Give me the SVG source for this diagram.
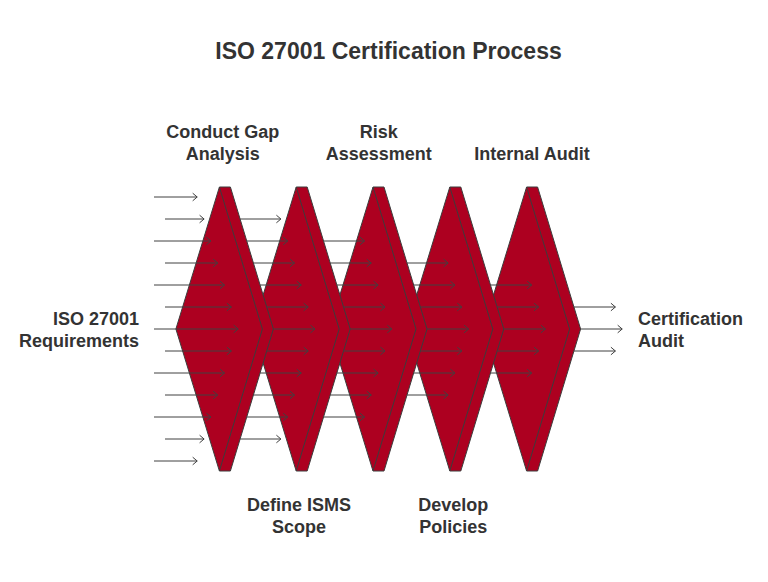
<svg xmlns="http://www.w3.org/2000/svg" width="768" height="582" viewBox="0 0 768 582">
<defs>
<marker id="ah" markerUnits="userSpaceOnUse" markerWidth="8" markerHeight="10" refX="6" refY="5" orient="auto">
<path d="M1.5,1.2 L6,5 L1.5,8.8" fill="none" stroke="#404040" stroke-width="1"/>
</marker>
<style>
.stage{fill:#AD0020;stroke:#3c3c3c;stroke-width:1;stroke-linejoin:miter}
.edge{fill:none;stroke:#3c3c3c;stroke-width:1}
.lbl{font-family:"Liberation Sans",Arial,sans-serif;font-weight:bold;font-size:18px;fill:#333333}
.title{font-family:"Liberation Sans",Arial,sans-serif;font-weight:bold;font-size:23px;fill:#333333}
.arr{fill:none;stroke:#404040;stroke-width:1;marker-end:url(#ah)}
</style>
</defs>
<rect width="768" height="582" fill="#ffffff"/>
<text class="title" x="388.5" y="59" text-anchor="middle">ISO 27001 Certification Process</text>

<g id="stage5">
<polygon class="stage" points="483.1,329 526.6,187 537.6,187 580.6,329 537.6,471 526.6,471"/>
<polyline class="edge" points="526.6,187 569.6,329 526.6,471"/>
</g>
<g id="stage4">
<polygon class="stage" points="406.3,329 449.8,187 460.8,187 503.8,329 460.8,471 449.8,471"/>
<polyline class="edge" points="449.8,187 492.8,329 449.8,471"/>
</g>
<g id="stage3">
<polygon class="stage" points="329.5,329 373,187 384,187 427,329 384,471 373,471"/>
<polyline class="edge" points="373,187 416,329 373,471"/>
</g>
<g id="stage2">
<polygon class="stage" points="252.7,329 296.2,187 307.2,187 350.2,329 307.2,471 296.2,471"/>
<polyline class="edge" points="296.2,187 339.2,329 296.2,471"/>
</g>
<g id="stage1">
<polygon class="stage" points="175.9,329 219.4,187 230.4,187 273.4,329 230.4,471 219.4,471"/>
<polyline class="edge" points="219.4,187 262.4,329 219.4,471"/>
</g>

<g id="connectors">
<path class="arr" d="M154,197 H197.2"/>
<path class="arr" d="M165,219 H204.1"/>
<path class="arr" d="M154,241 H210.9"/>
<path class="arr" d="M165,263 H217.7"/>
<path class="arr" d="M154,285 H224.5"/>
<path class="arr" d="M165,307 H231.4"/>
<path class="arr" d="M154,329 H238.2"/>
<path class="arr" d="M165,351 H231.4"/>
<path class="arr" d="M154,373 H224.5"/>
<path class="arr" d="M165,395 H217.7"/>
<path class="arr" d="M154,417 H210.9"/>
<path class="arr" d="M165,439 H204.1"/>
<path class="arr" d="M154,461 H197.2"/>

<path class="arr" d="M240.1,219 H280.9"/>
<path class="arr" d="M246.8,241 H287.7"/>
<path class="arr" d="M253.4,263 H294.5"/>
<path class="arr" d="M260.1,285 H301.3"/>
<path class="arr" d="M266.7,307 H308.2"/>
<path class="arr" d="M273.4,329 H315"/>
<path class="arr" d="M266.7,351 H308.2"/>
<path class="arr" d="M260.1,373 H301.3"/>
<path class="arr" d="M253.4,395 H294.5"/>
<path class="arr" d="M246.8,417 H287.7"/>
<path class="arr" d="M240.1,439 H280.9"/>

<path class="arr" d="M323.6,241 H364.5"/>
<path class="arr" d="M330.2,263 H371.3"/>
<path class="arr" d="M336.9,285 H378.1"/>
<path class="arr" d="M343.5,307 H385"/>
<path class="arr" d="M350.2,329 H391.8"/>
<path class="arr" d="M343.5,351 H385"/>
<path class="arr" d="M336.9,373 H378.1"/>
<path class="arr" d="M330.2,395 H371.3"/>
<path class="arr" d="M323.6,417 H364.5"/>

<path class="arr" d="M407,263 H448.1"/>
<path class="arr" d="M413.7,285 H454.9"/>
<path class="arr" d="M420.3,307 H461.8"/>
<path class="arr" d="M427,329 H468.6"/>
<path class="arr" d="M420.3,351 H461.8"/>
<path class="arr" d="M413.7,373 H454.9"/>
<path class="arr" d="M407,395 H448.1"/>

<path class="arr" d="M490.5,285 H531.7"/>
<path class="arr" d="M497.1,307 H538.6"/>
<path class="arr" d="M503.8,329 H545.4"/>
<path class="arr" d="M497.1,351 H538.6"/>
<path class="arr" d="M490.5,373 H531.7"/>

<path class="arr" d="M573.9,307 H615.4"/>
<path class="arr" d="M580.6,329 H622.2"/>
<path class="arr" d="M573.9,351 H615.4"/>
</g>

<g id="labels">
<g id="label-input">
<text class="lbl" x="139" y="324.5" text-anchor="end">ISO 27001</text>
<text class="lbl" x="139" y="346.5" text-anchor="end">Requirements</text>
</g>
<g id="label-stage1">
<text class="lbl" x="222.7" y="137.5" text-anchor="middle">Conduct Gap</text>
<text class="lbl" x="222.7" y="159.5" text-anchor="middle">Analysis</text>
</g>
<g id="label-stage2">
<text class="lbl" x="299" y="510.5" text-anchor="middle">Define ISMS</text>
<text class="lbl" x="299" y="532.5" text-anchor="middle">Scope</text>
</g>
<g id="label-stage3">
<text class="lbl" x="378.7" y="137.5" text-anchor="middle">Risk</text>
<text class="lbl" x="378.7" y="159.5" text-anchor="middle">Assessment</text>
</g>
<g id="label-stage4">
<text class="lbl" x="453.3" y="510.5" text-anchor="middle">Develop</text>
<text class="lbl" x="453.3" y="532.5" text-anchor="middle">Policies</text>
</g>
<g id="label-stage5">
<text class="lbl" x="532" y="159.5" text-anchor="middle">Internal Audit</text>
</g>
<g id="label-output">
<text class="lbl" x="638" y="324.5">Certification</text>
<text class="lbl" x="638" y="346.5">Audit</text>
</g>
</g>
</svg>
